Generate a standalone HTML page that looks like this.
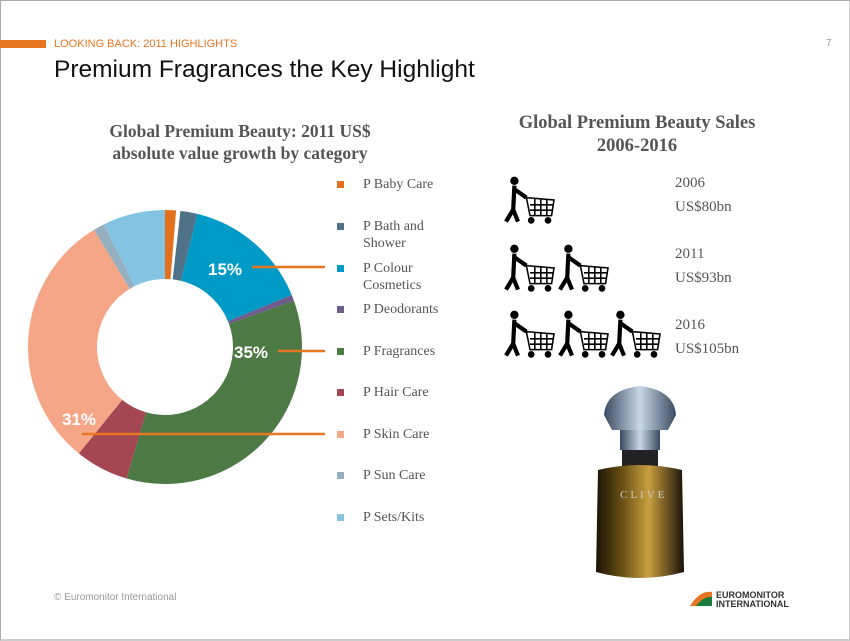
<!DOCTYPE html>
<html><head><style>
body{margin:0;width:850px;height:640px;background:#fff;overflow:hidden;font-family:"Liberation Sans",sans-serif;position:relative}
.frame{position:absolute;left:0;top:0;width:848px;height:638px;border:1px solid #aaa;border-right:2px solid #ccc;border-bottom:2px solid #ccc}
.abs{position:absolute}
.serif{font-family:"Liberation Serif",serif}
.leg{position:absolute;left:337px;font-family:"Liberation Serif",serif;font-size:14px;color:#555;line-height:17px}
.leg i{position:absolute;left:0;top:5px;width:7px;height:7px}
.leg span{display:block;padding-left:26px}
.pl{font-family:"Liberation Serif",serif;font-size:15px;color:#555;position:absolute;left:675px}
</style></head><body>
<div class="frame"></div>
<div class="abs" style="left:0;top:40px;width:46px;height:8px;background:#e87722"></div>
<div class="abs" style="left:54px;top:38px;font-size:11px;color:#e87722">LOOKING BACK: 2011 HIGHLIGHTS</div>
<div class="abs" style="left:826px;top:38px;font-size:10px;color:#999">7</div>
<div class="abs" style="left:54px;top:56px;font-size:24.5px;color:#111">Premium Fragrances the Key Highlight</div>
<div class="abs serif" style="left:40px;top:120px;width:400px;text-align:center;font-size:17.5px;font-weight:bold;color:#555;line-height:22px">Global Premium Beauty: 2011 US$<br>absolute value growth by category</div>
<div class="abs serif" style="left:487px;top:112px;width:300px;text-align:center;font-size:18.5px;font-weight:bold;color:#555;line-height:23px">Global Premium Beauty Sales<br>2006-2016</div>
<svg class="abs" style="left:0;top:0" width="850" height="640">
<g id="d" transform="translate(165,347) rotate(-90)"></g>
<g stroke="#e87722" stroke-width="2.5">
<line x1="252" y1="267" x2="325" y2="267"/><line x1="278" y1="351" x2="325" y2="351"/><line x1="82" y1="434" x2="325" y2="434"/></g>
<g fill="#fff" font-family="Liberation Sans" font-weight="bold" font-size="17">
<text x="208" y="275">15%</text><text x="234" y="358">35%</text><text x="62" y="425">31%</text></g>
<g id="carts"></g>
<g>
<defs><linearGradient id="gb" x1="0" x2="1"><stop offset="0" stop-color="#1a1208"/><stop offset="0.3" stop-color="#6a5014"/><stop offset="0.6" stop-color="#c8a040"/><stop offset="1" stop-color="#1a1008"/></linearGradient>
<linearGradient id="gc" x1="0" x2="1"><stop offset="0" stop-color="#3a4a60"/><stop offset="0.5" stop-color="#c8d6e6"/><stop offset="1" stop-color="#3a4a60"/></linearGradient></defs>
<path d="M604 415 Q606 390 640 386 Q674 390 676 415 L668 430 L612 430Z" fill="url(#gc)"/>
<rect x="620" y="430" width="40" height="20" fill="url(#gc)"/>
<rect x="622" y="450" width="36" height="18" fill="#222"/>
<path d="M598 470 Q640 460 682 470 L684 572 Q640 584 596 572Z" fill="url(#gb)"/>
<text x="620" y="498" font-size="11" fill="#ccc" font-family="Liberation Serif" letter-spacing="3">CLIVE</text>
</g>
<g transform="translate(690,588)">
<path d="M0 18 Q10 2 22 4 L22 18Z" fill="#e87722"/><path d="M6 18 Q14 8 22 9 L22 18Z" fill="#1a7a3a"/>
<text x="26" y="10" font-size="9" font-weight="bold" fill="#333" font-family="Liberation Sans">EUROMONITOR</text>
<text x="26" y="19" font-size="9" font-weight="bold" fill="#333" font-family="Liberation Sans">INTERNATIONAL</text></g>
</svg>
<div class="leg" style="top:176px"><i style="background:#e3701d"></i><span>P Baby Care</span></div>
<div class="leg" style="top:218px"><i style="background:#4f7288"></i><span>P Bath and<br>Shower</span></div>
<div class="leg" style="top:260px"><i style="background:#009ac6"></i><span>P Colour<br>Cosmetics</span></div>
<div class="leg" style="top:301px"><i style="background:#6e5c8a"></i><span>P Deodorants</span></div>
<div class="leg" style="top:343px"><i style="background:#4d7a44"></i><span>P Fragrances</span></div>
<div class="leg" style="top:384px"><i style="background:#a44753"></i><span>P Hair Care</span></div>
<div class="leg" style="top:426px"><i style="background:#f4a686"></i><span>P Skin Care</span></div>
<div class="leg" style="top:467px"><i style="background:#95afc0"></i><span>P Sun Care</span></div>
<div class="leg" style="top:509px"><i style="background:#84c4e2"></i><span>P Sets/Kits</span></div>
<div class="pl" style="top:175px">2006</div><div class="pl" style="top:199px">US$80bn</div>
<div class="pl" style="top:246px">2011</div><div class="pl" style="top:270px">US$93bn</div>
<div class="pl" style="top:317px">2016</div><div class="pl" style="top:341px">US$105bn</div>
<div class="abs" style="left:54px;top:592px;font-size:10px;color:#999">© Euromonitor International</div>
<script>
var segs=[[1.3,"#e3701d"],[0.5,"#fff"],[2,"#4f7288"],[15,"#009ac6"],[0.7,"#6e5c8a"],[35,"#4d7a44"],[6.3,"#a44753"],[30.5,"#f4a686"],[1.3,"#95afc0"],[7.4,"#84c4e2"]];
var r=102.5,C=2*Math.PI*r,tot=segs.reduce((a,b)=>a+b[0],0),off=0,h="";
segs.forEach(s=>{var l=s[0]/tot*C;h+='<circle r="'+r+'" fill="none" stroke="'+s[1]+'" stroke-width="69" stroke-dasharray="'+l+' '+(C-l)+'" stroke-dashoffset="'+(-off)+'"/>';off+=l;});
document.getElementById("d").innerHTML=h;
function cart(x,y){return '<g transform="translate('+x+','+y+') scale(1.2)" fill="#000" stroke="#000"><circle cx="12" cy="4" r="3.5" stroke="none"/><path d="M12 8 L11 28 L5 38 M11 28 L15 38 M12 11 L22 18" stroke-width="3.5" fill="none"/><path d="M22 18 L45 20 L43 33 L25 33Z M25 24 H44 M25 28.5 H43.5 M29 19 V33 M34 19.5 V33 M39 20 V33" stroke-width="1.3" fill="none"/><circle cx="26" cy="37" r="2.3"/><circle cx="40" cy="37" r="2.3"/></g>';}
var c="";c+=cart(500,176);[0,54].forEach(d=>c+=cart(500+d,244));[0,54,106].forEach(d=>c+=cart(500+d,310));
document.getElementById("carts").innerHTML=c;
</script>
</body></html>
